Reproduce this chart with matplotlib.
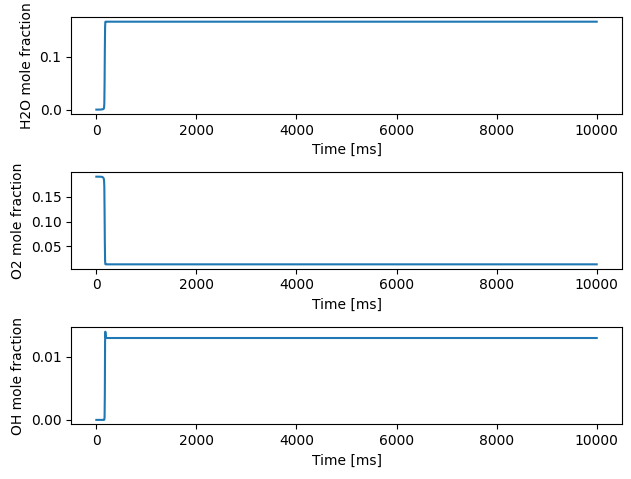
import matplotlib
matplotlib.use("Agg")
from matplotlib import pyplot as plt

# time points of the simulation [ms]
time_ms = [0, 50, 100, 120, 140, 150, 155, 160, 165, 170, 175, 180, 190,
           200, 500, 1000, 2000, 4000, 6000, 8000, 10000]

# species mole fractions
h2o = [0.0, 0.0, 0.0002, 0.0005, 0.001, 0.002, 0.004, 0.012, 0.05, 0.11,
       0.155, 0.1662, 0.1665, 0.1665, 0.1665, 0.1665, 0.1665, 0.1665,
       0.1665, 0.1665, 0.1665]
o2 = [0.1906, 0.1906, 0.1904, 0.190, 0.1885, 0.186, 0.182, 0.170, 0.12,
      0.06, 0.022, 0.0145, 0.014, 0.014, 0.014, 0.014, 0.014, 0.014,
      0.014, 0.014, 0.014]
oh = [0.0, 0.0, 0.0, 0.0, 0.0, 0.0, 0.0, 0.00005, 0.0004, 0.004, 0.0125,
      0.0140, 0.0131, 0.0130, 0.0130, 0.0130, 0.0130, 0.0130, 0.0130,
      0.0130, 0.0130]

fig = plt.figure(figsize=(6.31, 4.79), dpi=100)
ax1 = fig.add_axes([0.1130, 0.7620, 0.8723, 0.2019])
ax2 = fig.add_axes([0.1130, 0.4390, 0.8723, 0.2013])
ax3 = fig.add_axes([0.1130, 0.1142, 0.8723, 0.2025])

ax1.plot(time_ms, h2o)
ax1.set_xlabel('Time [ms]')
ax1.set_ylabel('H2O mole fraction')

ax2.plot(time_ms, o2)
ax2.set_xlabel('Time [ms]')
ax2.set_ylabel('O2 mole fraction')
ax2.set_yticks([0.05, 0.10, 0.15])

ax3.plot(time_ms, oh)
ax3.set_xlabel('Time [ms]')
ax3.set_ylabel('OH mole fraction')

plt.savefig('out.png', dpi=100)
